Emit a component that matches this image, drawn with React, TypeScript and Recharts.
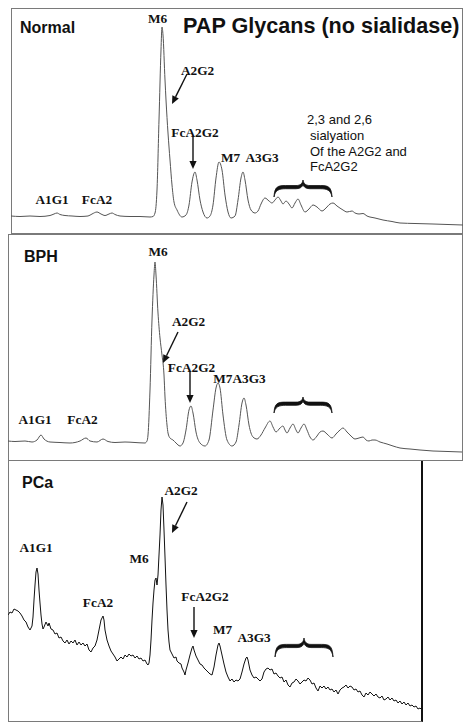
import React from "react";
import { LineChart, Line, XAxis, YAxis, ReferenceDot, ReferenceLine, ReferenceArea } from "recharts";

// [retention position, detector signal]
type Pt = [number, number];

const normalTrace: Pt[] = [
  [11, 18], [20, 17.5], [30, 18], [40, 17.5], [50, 18.5], [54, 20], [57, 21], [60, 19.5], [65, 18.5], [72, 18],
  [80, 17.5], [88, 18], [92, 20], [97, 22], [101, 20], [105, 18.5], [109, 20], [112, 21], [115, 19.5], [120, 18],
  [130, 17.5], [140, 17.5], [150, 17], [153, 17.5], [155, 21], [157, 44], [159, 114], [161, 184], [162, 207], [163, 199],
  [165, 154], [166, 134], [168, 101], [170, 74], [172, 49], [174, 32], [177, 24], [182, 17], [186, 19], [189, 29],
  [192, 52], [195, 62], [197, 54], [200, 34], [203, 22], [207, 16], [210, 18], [213, 29], [216, 56], [219, 72],
  [222, 64], [225, 39], [228, 22], [231, 16], [235, 18], [238, 34], [241, 56], [243, 62], [245, 54], [248, 34],
  [251, 24], [255, 21], [258, 23], [261, 30], [265, 36], [269, 33], [272, 31], [275, 34], [278, 37], [281, 33],
  [283, 30], [286, 33], [289, 30], [292, 26], [295, 31], [298, 35], [301, 29], [305, 22], [309, 25], [313, 29],
  [317, 27], [322, 23], [326, 26], [330, 30], [333, 31], [337, 28], [343, 24], [347, 22], [352, 23], [355, 21],
  [359, 20], [363, 20.5], [367, 18], [375, 16], [383, 14], [392, 12.5], [400, 11], [415, 10.5], [433, 10], [448, 9.5],
  [463, 9],
];

const bphTrace: Pt[] = [
  [8, 20], [15, 19.5], [25, 20], [32, 19], [37, 21], [41, 26], [44, 22], [50, 19], [60, 18.5], [70, 18],
  [80, 20], [86, 23], [90, 20], [97, 19], [103, 22], [108, 19.5], [115, 18.5], [125, 19], [135, 18.5], [145, 18],
  [147, 20], [148, 26], [150, 71], [152, 141], [154, 186], [155, 199], [156, 186], [158, 148], [160, 123], [162, 106],
  [164, 86], [165, 64], [167, 36], [168, 28], [170, 23], [173, 21], [176, 18], [180, 15], [183, 18], [186, 31],
  [189, 51], [191, 55], [193, 48], [196, 29], [200, 18], [205, 15], [209, 21], [213, 51], [216, 73], [218, 78],
  [220, 73], [223, 46], [227, 21], [232, 15], [236, 19], [239, 36], [242, 58], [244, 63], [246, 56], [249, 36],
  [253, 24], [257, 22], [261, 26], [265, 33], [270, 40], [273, 34], [276, 29], [280, 33], [283, 35], [285, 31],
  [287, 28], [290, 33], [293, 37], [296, 31], [298, 28], [301, 33], [304, 37], [307, 31], [310, 24], [313, 21],
  [317, 25], [320, 29], [323, 30], [327, 27], [332, 23], [336, 27], [340, 31], [343, 33], [347, 29], [351, 25],
  [355, 22], [359, 23], [363, 24], [366, 21], [369, 20], [372, 21], [375, 21], [380, 19], [387, 17], [393, 15],
  [400, 13], [410, 12], [420, 11], [433, 10], [448, 9.5], [462, 9],
];

const pcaTrace: Pt[] = [
  [8, 106], [10, 109], [12, 108], [14, 112], [16, 111], [18, 110], [20, 108], [22, 105], [24, 101], [26, 99],
  [28, 94], [30, 91], [32, 95], [33, 104], [34, 121], [35, 136], [36, 149], [37, 153], [38, 147], [39, 131],
  [40, 118], [41, 106], [42, 97], [43, 92], [44, 94], [46, 99], [48, 95], [49, 98], [51, 92], [53, 91],
  [55, 87], [57, 88], [59, 83], [61, 84], [63, 80], [65, 78], [67, 81], [69, 77], [71, 80], [73, 78],
  [75, 81], [77, 76], [79, 79], [81, 76], [83, 78], [85, 75], [87, 77], [89, 71], [91, 69], [93, 73],
  [95, 75], [97, 81], [99, 91], [101, 101], [103, 105], [104, 101], [105, 91], [107, 81], [109, 75], [111, 70],
  [113, 67], [115, 64], [117, 60], [119, 62], [121, 64], [123, 62], [125, 66], [127, 64], [129, 67], [131, 65],
  [133, 66], [135, 63], [137, 65], [139, 62], [141, 63], [143, 60], [145, 61], [147, 57], [148, 56], [149, 58],
  [150, 66], [151, 81], [152, 101], [153, 118], [154, 131], [155, 141], [156, 143], [157, 136], [158, 146], [159, 166],
  [160, 186], [161, 211], [162, 224], [163, 216], [164, 191], [165, 164], [166, 136], [167, 111], [168, 91], [169, 79],
  [170, 71], [172, 67], [174, 63], [176, 64], [177, 60], [179, 58], [181, 57], [182, 53], [184, 49], [185, 46],
  [186, 51], [188, 58], [190, 66], [192, 73], [193, 75], [194, 71], [196, 65], [198, 61], [200, 57], [202, 56],
  [204, 53], [206, 51], [208, 49], [210, 47], [212, 46], [214, 54], [216, 66], [218, 76], [219, 78], [220, 75],
  [222, 66], [224, 57], [226, 49], [228, 44], [230, 40], [232, 42], [234, 39], [236, 41], [238, 40], [240, 42],
  [242, 49], [244, 57], [246, 63], [247, 64], [248, 61], [250, 51], [252, 46], [254, 43], [256, 44], [258, 42],
  [260, 40], [262, 42], [264, 49], [266, 52], [268, 53], [270, 51], [272, 52], [274, 47], [276, 48], [278, 45],
  [280, 43], [282, 44], [284, 39], [286, 41], [288, 36], [290, 34], [292, 38], [294, 39], [296, 42], [298, 40],
  [300, 37], [302, 39], [304, 41], [306, 40], [308, 43], [310, 41], [312, 37], [314, 38], [316, 33], [318, 30],
  [320, 35], [322, 33], [324, 35], [326, 32], [328, 34], [330, 31], [332, 32], [334, 29], [336, 31], [338, 27],
  [340, 31], [342, 33], [344, 34], [346, 36], [348, 33], [350, 35], [352, 34], [354, 31], [356, 32], [358, 29],
  [360, 30], [362, 26], [364, 24], [366, 28], [368, 26], [370, 29], [372, 27], [374, 25], [376, 27], [378, 24],
  [380, 23], [382, 25], [384, 21], [386, 22], [388, 24], [390, 21], [392, 23], [394, 20], [396, 21], [398, 18],
  [400, 20], [402, 17], [404, 19], [406, 16], [408, 18], [410, 15], [412, 16], [414, 14], [416, 15], [418, 12],
  [420, 13], [422, 11],
];

type Kind = "peak" | "panel" | "title" | "note";
interface Tag { text: string; x: number; y: number; kind: Kind }
interface Arrow { from: Pt; to: Pt }
interface Brace { x1: number; x2: number; y1: number; y2: number }

const normalTags: Tag[] = [
  { text: "Normal", x: 20, y: 207, kind: "panel" },
  { text: "PAP Glycans (no sialidase)", x: 183, y: 209, kind: "title" },
  { text: "M6", x: 157.5, y: 216, kind: "peak" },
  { text: "A2G2", x: 197.5, y: 164, kind: "peak" },
  { text: "FcA2G2", x: 195, y: 102, kind: "peak" },
  { text: "M7", x: 230.5, y: 77, kind: "peak" },
  { text: "A3G3", x: 262, y: 77, kind: "peak" },
  { text: "A1G1", x: 52, y: 35, kind: "peak" },
  { text: "FcA2", x: 97, y: 35, kind: "peak" },
  { text: "2,3 and 2,6", x: 307, y: 114.6, kind: "note" },
  { text: "sialyation", x: 310, y: 98.6, kind: "note" },
  { text: "Of the A2G2 and", x: 310, y: 82.6, kind: "note" },
  { text: "FcA2G2", x: 310, y: 67.6, kind: "note" },
];
const normalArrows: Arrow[] = [
  { from: [187, 160], to: [172, 130] },
  { from: [193, 97], to: [193, 65] },
];
const normalBrace: Brace = { x1: 274, x2: 332, y1: 37, y2: 54 };

const bphTags: Tag[] = [
  { text: "BPH", x: 24, y: 205, kind: "panel" },
  { text: "M6", x: 158, y: 210, kind: "peak" },
  { text: "A2G2", x: 188.5, y: 140, kind: "peak" },
  { text: "FcA2G2", x: 191.5, y: 94, kind: "peak" },
  { text: "M7A3G3", x: 239.5, y: 83, kind: "peak" },
  { text: "A1G1", x: 35, y: 42, kind: "peak" },
  { text: "FcA2", x: 82.5, y: 42, kind: "peak" },
];
const bphArrows: Arrow[] = [
  { from: [178, 129], to: [163, 98] },
  { from: [190, 89], to: [190, 58] },
];
const bphBrace: Brace = { x1: 274, x2: 332, y1: 48, y2: 64 };

const pcaTags: Tag[] = [
  { text: "PCa", x: 22, y: 239, kind: "panel" },
  { text: "A1G1", x: 36, y: 174, kind: "peak" },
  { text: "FcA2", x: 98, y: 119, kind: "peak" },
  { text: "M6", x: 139, y: 163, kind: "peak" },
  { text: "A2G2", x: 181, y: 231, kind: "peak" },
  { text: "FcA2G2", x: 205, y: 125, kind: "peak" },
  { text: "M7", x: 222.5, y: 92, kind: "peak" },
  { text: "A3G3", x: 254, y: 84, kind: "peak" },
];
const pcaArrows: Arrow[] = [
  { from: [187, 219], to: [172, 188] },
  { from: [194, 114], to: [194, 83] },
];
const pcaBrace: Brace = { x1: 275, x2: 333, y1: 64, y2: 83 };

const serif = "'Liberation Serif', 'Times New Roman', serif";
const sans = "'Liberation Sans', Arial, sans-serif";

const tagStyle: Record<Kind, { font: string; size: number; weight: string; anchor: "start" | "middle" }> = {
  peak: { font: serif, size: 13.3, weight: "bold", anchor: "middle" },
  panel: { font: sans, size: 16, weight: "bold", anchor: "start" },
  title: { font: sans, size: 21.6, weight: "bold", anchor: "start" },
  note: { font: sans, size: 13, weight: "normal", anchor: "start" },
};

function arrowShape(p: any) {
  const { x1, y1, x2, y2 } = p;
  const dx = x2 - x1;
  const dy = y2 - y1;
  const len = Math.sqrt(dx * dx + dy * dy) || 1;
  const ux = dx / len;
  const uy = dy / len;
  const head = 8;
  const half = 3.6;
  const bx = x2 - ux * head;
  const by = y2 - uy * head;
  return (
    <g>
      <line x1={x1} y1={y1} x2={bx} y2={by} stroke="#111" strokeWidth={1.4} />
      <polygon
        points={`${x2},${y2} ${bx - uy * half},${by + ux * half} ${bx + uy * half},${by - ux * half}`}
        fill="#111"
      />
    </g>
  );
}

// curly overbrace, thick in the arms and thin at the tips
function braceShape(p: any) {
  const { x, y, width: w, height: h } = p;
  const m = y + h * 0.42;
  const t = 3.2;
  const top = `M ${x} ${y + h}
    C ${x + w * 0.01} ${m - 1} ${x + w * 0.07} ${m - t / 2} ${x + w * 0.2} ${m - t / 2}
    L ${x + w * 0.38} ${m - t / 2}
    C ${x + w * 0.46} ${m - t / 2} ${x + w * 0.49} ${y + h * 0.2} ${x + w * 0.5} ${y}
    C ${x + w * 0.51} ${y + h * 0.2} ${x + w * 0.54} ${m - t / 2} ${x + w * 0.62} ${m - t / 2}
    L ${x + w * 0.8} ${m - t / 2}
    C ${x + w * 0.93} ${m - t / 2} ${x + w * 0.99} ${m - 1} ${x + w} ${y + h}`;
  const bottom = `C ${x + w * 0.98} ${m + t} ${x + w * 0.92} ${m + t / 2} ${x + w * 0.8} ${m + t / 2}
    L ${x + w * 0.62} ${m + t / 2}
    C ${x + w * 0.55} ${m + t / 2} ${x + w * 0.51} ${m} ${x + w * 0.5} ${y + h * 0.25}
    C ${x + w * 0.49} ${m} ${x + w * 0.45} ${m + t / 2} ${x + w * 0.38} ${m + t / 2}
    L ${x + w * 0.2} ${m + t / 2}
    C ${x + w * 0.08} ${m + t / 2} ${x + w * 0.02} ${m + t} ${x} ${y + h} Z`;
  return <path d={`${top} ${bottom}`} fill="#111" stroke="#111" strokeWidth={0.8} strokeLinejoin="round" />;
}

interface PanelProps {
  trace: Pt[];
  tags: Tag[];
  arrows: Arrow[];
  brace: Brace;
  left: number;
  top: number;
  width: number;
  height: number;
  color: string;
  curve: "monotone" | "linear";
}

function Panel({ trace, tags, arrows, brace, left, top, width, height, color, curve }: PanelProps) {
  const data = trace.map(([x, y]) => ({ x, y }));
  return (
    <div style={{ position: "absolute", left, top }}>
      <LineChart width={width} height={height} data={data} margin={{ top: 0, right: 0, bottom: 0, left: 0 }}>
        <XAxis type="number" dataKey="x" domain={[left, left + width]} hide allowDataOverflow />
        <YAxis type="number" domain={[0, height]} hide allowDataOverflow />
        <Line
          type={curve}
          dataKey="y"
          stroke={color}
          strokeWidth={1}
          dot={false}
          isAnimationActive={false}
        />
        {arrows.map((a, i) => (
          <ReferenceLine
            key={`a${i}`}
            segment={[{ x: a.from[0], y: a.from[1] }, { x: a.to[0], y: a.to[1] }]}
            ifOverflow="visible"
            shape={arrowShape}
          />
        ))}
        <ReferenceArea
          x1={brace.x1}
          x2={brace.x2}
          y1={brace.y1}
          y2={brace.y2}
          ifOverflow="visible"
          shape={braceShape}
        />
        {tags.map((t, i) => {
          const s = tagStyle[t.kind];
          return (
            <ReferenceDot
              key={`t${i}`}
              x={t.x}
              y={t.y}
              r={0}
              ifOverflow="visible"
              shape={(p: any) => (
                <text
                  x={p.cx}
                  y={p.cy}
                  textAnchor={s.anchor}
                  dominantBaseline="central"
                  fontFamily={s.font}
                  fontSize={s.size}
                  fontWeight={s.weight}
                  fill="#111"
                >
                  {t.text}
                </text>
              )}
            />
          );
        })}
      </LineChart>
    </div>
  );
}

export default function App() {
  const border = "1px solid #7a7a7a";
  return (
    <div style={{ position: "absolute", left: 0, top: 0, width: 474, height: 728, background: "#fff", overflow: "hidden" }}>
      <div style={{ position: "absolute", left: 11, top: 8, width: 452, height: 226, border, boxSizing: "border-box" }} />
      <div style={{ position: "absolute", left: 8, top: 234, width: 455, height: 227, border, boxSizing: "border-box" }} />
      <div
        style={{
          position: "absolute",
          left: 8,
          top: 461,
          width: 415,
          height: 261,
          borderLeft: border,
          borderBottom: border,
          borderRight: "2px solid #111",
          boxSizing: "border-box",
        }}
      />
      <Panel trace={normalTrace} tags={normalTags} arrows={normalArrows} brace={normalBrace}
        left={11} top={8} width={452} height={226} color="#555" curve="monotone" />
      <Panel trace={bphTrace} tags={bphTags} arrows={bphArrows} brace={bphBrace}
        left={8} top={234} width={455} height={227} color="#555" curve="monotone" />
      <Panel trace={pcaTrace} tags={pcaTags} arrows={pcaArrows} brace={pcaBrace}
        left={8} top={461} width={414} height={260} color="#111" curve="linear" />
    </div>
  );
}
